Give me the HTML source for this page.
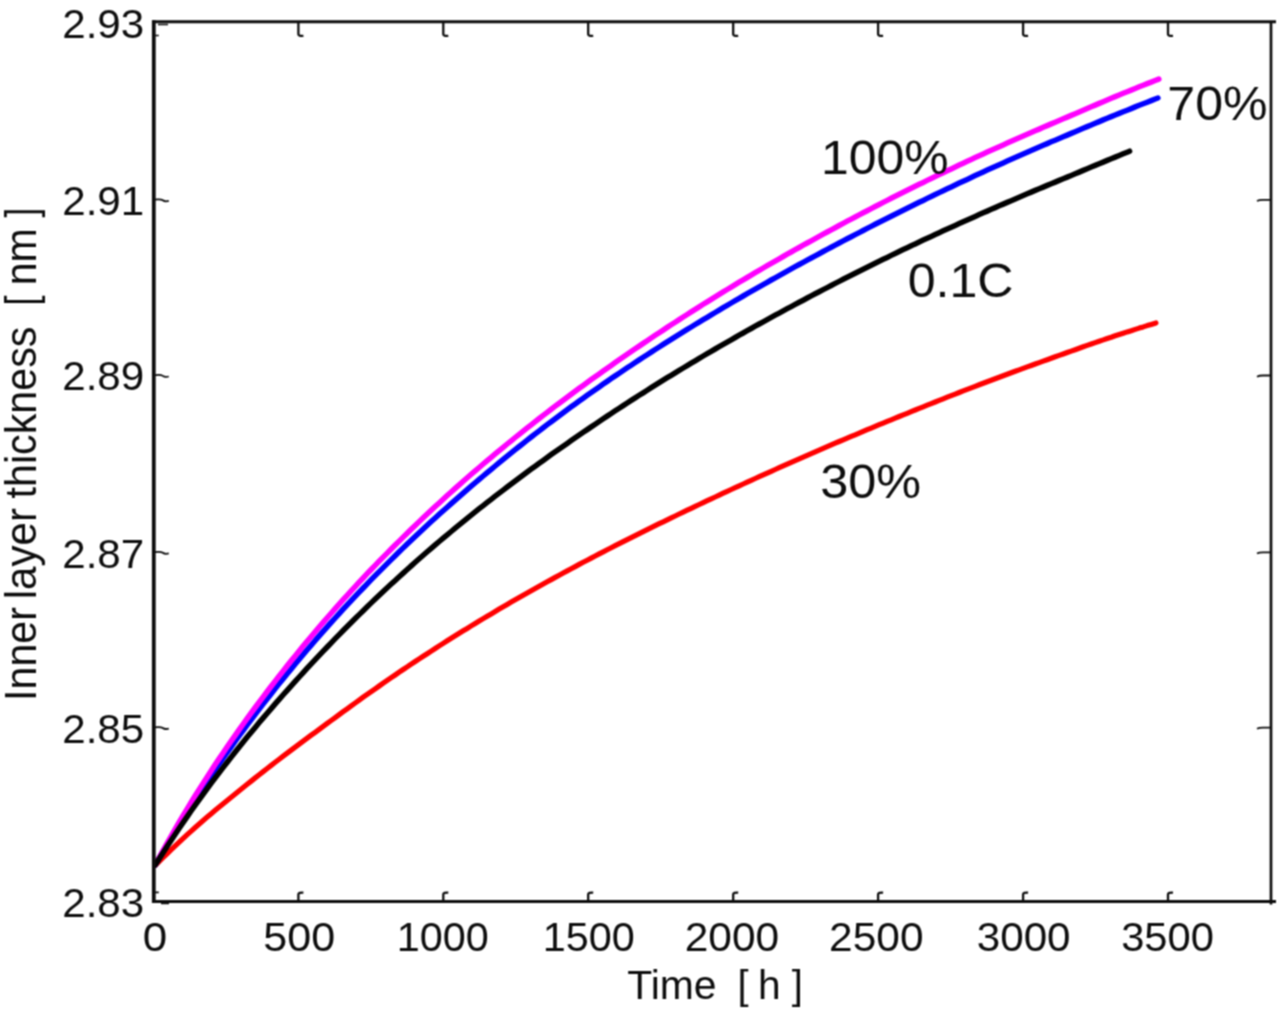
<!DOCTYPE html>
<html lang="en"><head><meta charset="utf-8"><title>Inner layer thickness vs time</title>
<style>html,body{margin:0;padding:0;background:#fff}body{width:1280px;height:1009px;overflow:hidden}svg{display:block}</style></head>
<body>
<svg width="1280" height="1009" viewBox="0 0 1280 1009">
<defs><filter id="soft" filterUnits="userSpaceOnUse" x="0" y="0" width="1280" height="1009" color-interpolation-filters="sRGB"><feConvolveMatrix order="3" kernelMatrix="1 2 1 2 4 2 1 2 1" divisor="16" edgeMode="duplicate" preserveAlpha="false"/></filter></defs>
<rect width="1280" height="1009" fill="#fff"/>
<g filter="url(#soft)">
<path d="M155.2,865.4 L159.2,861.4 L163.2,857.5 L167.2,853.6 L171.2,849.7 L175.2,845.9 L179.2,842.1 L183.2,838.4 L187.2,834.7 L191.2,831.1 L195.2,827.5 L199.2,824.0 L203.2,820.5 L207.2,817.1 L211.2,813.7 L215.2,810.3 L219.2,807.0 L223.2,803.7 L227.2,800.4 L231.2,797.2 L235.2,793.9 L239.2,790.7 L243.2,787.5 L247.2,784.3 L251.2,781.1 L255.2,777.9 L259.2,774.7 L263.2,771.6 L267.2,768.5 L271.2,765.4 L275.2,762.3 L279.2,759.2 L283.2,756.2 L287.2,753.2 L291.2,750.1 L295.2,747.1 L299.2,744.1 L303.2,741.2 L307.2,738.2 L311.2,735.2 L315.2,732.3 L319.2,729.3 L323.2,726.4 L327.2,723.4 L331.2,720.5 L335.2,717.6 L339.2,714.6 L343.2,711.7 L347.2,708.8 L351.2,705.9 L355.2,703.0 L359.2,700.1 L363.2,697.2 L367.2,694.4 L371.2,691.6 L375.2,688.8 L379.2,686.0 L383.2,683.2 L387.2,680.4 L391.2,677.7 L395.2,675.0 L399.2,672.2 L403.2,669.5 L407.2,666.9 L411.2,664.2 L415.2,661.5 L419.2,658.9 L423.2,656.3 L427.2,653.7 L431.2,651.1 L435.2,648.5 L439.2,645.9 L443.2,643.4 L447.2,640.8 L451.2,638.3 L455.2,635.8 L459.2,633.3 L463.2,630.8 L467.2,628.4 L471.2,625.9 L475.2,623.5 L479.2,621.1 L483.2,618.6 L487.2,616.2 L491.2,613.9 L495.2,611.5 L499.2,609.1 L503.2,606.8 L507.2,604.4 L511.2,602.1 L515.2,599.8 L519.2,597.5 L523.2,595.2 L527.2,593.0 L531.2,590.7 L535.2,588.5 L539.2,586.2 L543.2,584.0 L547.2,581.8 L551.2,579.6 L555.2,577.4 L559.2,575.2 L563.2,573.0 L567.2,570.9 L571.2,568.7 L575.2,566.6 L579.2,564.4 L583.2,562.3 L587.2,560.2 L591.2,558.1 L595.2,556.0 L599.2,553.9 L603.2,551.9 L607.2,549.8 L611.2,547.7 L615.2,545.7 L619.2,543.7 L623.2,541.6 L627.2,539.6 L631.2,537.6 L635.2,535.6 L639.2,533.6 L643.2,531.6 L647.2,529.6 L651.2,527.7 L655.2,525.7 L659.2,523.7 L663.2,521.8 L667.2,519.8 L671.2,517.9 L675.2,516.0 L679.2,514.0 L683.2,512.1 L687.2,510.2 L691.2,508.3 L695.2,506.4 L699.2,504.5 L703.2,502.6 L707.2,500.7 L711.2,498.8 L715.2,497.0 L719.2,495.1 L723.2,493.2 L727.2,491.4 L731.2,489.5 L735.2,487.7 L739.2,485.8 L743.2,484.0 L747.2,482.1 L751.2,480.3 L755.2,478.5 L759.2,476.7 L763.2,474.9 L767.2,473.1 L771.2,471.3 L775.2,469.5 L779.2,467.7 L783.2,465.9 L787.2,464.1 L791.2,462.3 L795.2,460.6 L799.2,458.8 L803.2,457.1 L807.2,455.3 L811.2,453.6 L815.2,451.8 L819.2,450.1 L823.2,448.4 L827.2,446.7 L831.2,444.9 L835.2,443.2 L839.2,441.5 L843.2,439.8 L847.2,438.1 L851.2,436.4 L855.2,434.8 L859.2,433.1 L863.2,431.4 L867.2,429.7 L871.2,428.1 L875.2,426.4 L879.2,424.7 L883.2,423.1 L887.2,421.4 L891.2,419.8 L895.2,418.2 L899.2,416.5 L903.2,414.9 L907.2,413.3 L911.2,411.6 L915.2,410.0 L919.2,408.4 L923.2,406.8 L927.2,405.2 L931.2,403.6 L935.2,402.0 L939.2,400.4 L943.2,398.8 L947.2,397.2 L951.2,395.6 L955.2,394.1 L959.2,392.5 L963.2,390.9 L967.2,389.4 L971.2,387.9 L975.2,386.3 L979.2,384.8 L983.2,383.3 L987.2,381.8 L991.2,380.3 L995.2,378.8 L999.2,377.3 L1003.2,375.8 L1007.2,374.3 L1011.2,372.8 L1015.2,371.3 L1019.2,369.9 L1023.2,368.4 L1027.2,366.9 L1031.2,365.5 L1035.2,364.0 L1039.2,362.6 L1043.2,361.1 L1047.2,359.7 L1051.2,358.3 L1055.2,356.8 L1059.2,355.4 L1063.2,354.0 L1067.2,352.5 L1071.2,351.1 L1075.2,349.7 L1079.2,348.2 L1083.2,346.8 L1087.2,345.4 L1091.2,344.0 L1095.2,342.6 L1099.2,341.2 L1103.2,339.9 L1107.2,338.5 L1111.2,337.2 L1115.2,335.8 L1119.2,334.5 L1123.2,333.2 L1127.2,331.9 L1131.2,330.7 L1135.2,329.4 L1139.2,328.1 L1143.2,326.9 L1147.2,325.6 L1151.2,324.4 L1155.2,323.2 L1155.9,323.0" fill="none" stroke="#ff0000" stroke-width="5.2" stroke-linejoin="round" stroke-linecap="round"/>
<path d="M155.2,865.0 L159.2,858.0 L163.2,851.1 L167.2,844.4 L171.2,837.7 L175.2,831.1 L179.2,824.6 L183.2,818.1 L187.2,811.8 L191.2,805.5 L195.2,799.3 L199.2,793.2 L203.2,787.2 L207.2,781.2 L211.2,775.3 L215.2,769.5 L219.2,763.7 L223.2,758.0 L227.2,752.4 L231.2,746.8 L235.2,741.2 L239.2,735.7 L243.2,730.3 L247.2,724.9 L251.2,719.6 L255.2,714.3 L259.2,709.1 L263.2,703.9 L267.2,698.7 L271.2,693.7 L275.2,688.6 L279.2,683.6 L283.2,678.7 L287.2,673.8 L291.2,668.9 L295.2,664.1 L299.2,659.3 L303.2,654.5 L307.2,649.8 L311.2,645.2 L315.2,640.5 L319.2,635.9 L323.2,631.4 L327.2,626.9 L331.2,622.4 L335.2,618.0 L339.2,613.6 L343.2,609.2 L347.2,604.9 L351.2,600.6 L355.2,596.4 L359.2,592.2 L363.2,588.0 L367.2,583.8 L371.2,579.7 L375.2,575.6 L379.2,571.6 L383.2,567.6 L387.2,563.6 L391.2,559.6 L395.2,555.7 L399.2,551.8 L403.2,547.9 L407.2,544.1 L411.2,540.3 L415.2,536.5 L419.2,532.7 L423.2,529.0 L427.2,525.3 L431.2,521.6 L435.2,518.0 L439.2,514.3 L443.2,510.7 L447.2,507.2 L451.2,503.6 L455.2,500.1 L459.2,496.6 L463.2,493.1 L467.2,489.6 L471.2,486.2 L475.2,482.7 L479.2,479.3 L483.2,476.0 L487.2,472.6 L491.2,469.3 L495.2,466.0 L499.2,462.7 L503.2,459.4 L507.2,456.1 L511.2,452.9 L515.2,449.7 L519.2,446.5 L523.2,443.3 L527.2,440.2 L531.2,437.0 L535.2,433.9 L539.2,430.8 L543.2,427.8 L547.2,424.7 L551.2,421.7 L555.2,418.7 L559.2,415.7 L563.2,412.7 L567.2,409.8 L571.2,406.8 L575.2,403.9 L579.2,401.0 L583.2,398.2 L587.2,395.3 L591.2,392.5 L595.2,389.7 L599.2,386.9 L603.2,384.1 L607.2,381.4 L611.2,378.6 L615.2,375.9 L619.2,373.2 L623.2,370.5 L627.2,367.8 L631.2,365.2 L635.2,362.5 L639.2,359.9 L643.2,357.3 L647.2,354.7 L651.2,352.1 L655.2,349.5 L659.2,347.0 L663.2,344.4 L667.2,341.9 L671.2,339.4 L675.2,336.9 L679.2,334.4 L683.2,331.9 L687.2,329.4 L691.2,327.0 L695.2,324.5 L699.2,322.1 L703.2,319.7 L707.2,317.3 L711.2,314.9 L715.2,312.5 L719.2,310.1 L723.2,307.7 L727.2,305.4 L731.2,303.0 L735.2,300.7 L739.2,298.3 L743.2,296.0 L747.2,293.7 L751.2,291.4 L755.2,289.1 L759.2,286.8 L763.2,284.6 L767.2,282.3 L771.2,280.0 L775.2,277.8 L779.2,275.6 L783.2,273.3 L787.2,271.1 L791.2,268.9 L795.2,266.7 L799.2,264.5 L803.2,262.3 L807.2,260.1 L811.2,258.0 L815.2,255.8 L819.2,253.7 L823.2,251.5 L827.2,249.4 L831.2,247.3 L835.2,245.1 L839.2,243.0 L843.2,240.9 L847.2,238.8 L851.2,236.7 L855.2,234.6 L859.2,232.6 L863.2,230.5 L867.2,228.4 L871.2,226.4 L875.2,224.3 L879.2,222.3 L883.2,220.3 L887.2,218.3 L891.2,216.2 L895.2,214.2 L899.2,212.2 L903.2,210.2 L907.2,208.2 L911.2,206.3 L915.2,204.3 L919.2,202.3 L923.2,200.4 L927.2,198.4 L931.2,196.5 L935.2,194.6 L939.2,192.6 L943.2,190.7 L947.2,188.8 L951.2,186.9 L955.2,185.0 L959.2,183.1 L963.2,181.2 L967.2,179.4 L971.2,177.5 L975.2,175.6 L979.2,173.8 L983.2,171.9 L987.2,170.1 L991.2,168.3 L995.2,166.5 L999.2,164.7 L1003.2,162.9 L1007.2,161.1 L1011.2,159.3 L1015.2,157.5 L1019.2,155.7 L1023.2,154.0 L1027.2,152.2 L1031.2,150.5 L1035.2,148.7 L1039.2,147.0 L1043.2,145.3 L1047.2,143.6 L1051.2,141.8 L1055.2,140.2 L1059.2,138.5 L1063.2,136.8 L1067.2,135.1 L1071.2,133.4 L1075.2,131.7 L1079.2,130.0 L1083.2,128.3 L1087.2,126.6 L1091.2,125.0 L1095.2,123.3 L1099.2,121.6 L1103.2,119.9 L1107.2,118.3 L1111.2,116.6 L1115.2,115.0 L1119.2,113.4 L1123.2,111.8 L1127.2,110.2 L1131.2,108.6 L1135.2,106.9 L1139.2,105.3 L1143.2,103.8 L1147.2,102.2 L1151.2,100.6 L1155.2,99.0 L1157.9,98.0" fill="none" stroke="#0000ff" stroke-width="5.5" stroke-linejoin="round" stroke-linecap="round"/>
<path d="M155.2,864.9 L159.2,857.5 L163.2,850.3 L167.2,843.1 L171.2,836.1 L175.2,829.1 L179.2,822.2 L183.2,815.5 L187.2,808.8 L191.2,802.3 L195.2,795.8 L199.2,789.4 L203.2,783.1 L207.2,776.9 L211.2,770.7 L215.2,764.6 L219.2,758.6 L223.2,752.7 L227.2,746.8 L231.2,741.0 L235.2,735.3 L239.2,729.6 L243.2,724.0 L247.2,718.4 L251.2,712.9 L255.2,707.5 L259.2,702.1 L263.2,696.8 L267.2,691.5 L271.2,686.3 L275.2,681.1 L279.2,675.9 L283.2,670.9 L287.2,665.8 L291.2,660.8 L295.2,655.9 L299.2,651.0 L303.2,646.1 L307.2,641.2 L311.2,636.5 L315.2,631.7 L319.2,627.0 L323.2,622.4 L327.2,617.8 L331.2,613.2 L335.2,608.6 L339.2,604.2 L343.2,599.7 L347.2,595.3 L351.2,590.9 L355.2,586.6 L359.2,582.2 L363.2,578.0 L367.2,573.7 L371.2,569.5 L375.2,565.4 L379.2,561.2 L383.2,557.1 L387.2,553.1 L391.2,549.0 L395.2,545.0 L399.2,541.1 L403.2,537.1 L407.2,533.2 L411.2,529.3 L415.2,525.5 L419.2,521.6 L423.2,517.8 L427.2,514.1 L431.2,510.3 L435.2,506.6 L439.2,502.9 L443.2,499.3 L447.2,495.6 L451.2,492.0 L455.2,488.4 L459.2,484.9 L463.2,481.3 L467.2,477.8 L471.2,474.3 L475.2,470.9 L479.2,467.5 L483.2,464.0 L487.2,460.6 L491.2,457.3 L495.2,453.9 L499.2,450.6 L503.2,447.3 L507.2,444.0 L511.2,440.8 L515.2,437.5 L519.2,434.3 L523.2,431.1 L527.2,427.9 L531.2,424.8 L535.2,421.6 L539.2,418.5 L543.2,415.4 L547.2,412.3 L551.2,409.3 L555.2,406.2 L559.2,403.2 L563.2,400.2 L567.2,397.2 L571.2,394.2 L575.2,391.3 L579.2,388.3 L583.2,385.4 L587.2,382.5 L591.2,379.6 L595.2,376.7 L599.2,373.9 L603.2,371.0 L607.2,368.2 L611.2,365.4 L615.2,362.6 L619.2,359.8 L623.2,357.0 L627.2,354.3 L631.2,351.5 L635.2,348.8 L639.2,346.1 L643.2,343.4 L647.2,340.7 L651.2,338.0 L655.2,335.3 L659.2,332.7 L663.2,330.1 L667.2,327.4 L671.2,324.8 L675.2,322.2 L679.2,319.6 L683.2,317.0 L687.2,314.5 L691.2,311.9 L695.2,309.4 L699.2,306.9 L703.2,304.3 L707.2,301.8 L711.2,299.3 L715.2,296.9 L719.2,294.4 L723.2,291.9 L727.2,289.5 L731.2,287.1 L735.2,284.6 L739.2,282.2 L743.2,279.8 L747.2,277.5 L751.2,275.1 L755.2,272.7 L759.2,270.4 L763.2,268.0 L767.2,265.7 L771.2,263.4 L775.2,261.1 L779.2,258.8 L783.2,256.5 L787.2,254.2 L791.2,252.0 L795.2,249.7 L799.2,247.5 L803.2,245.2 L807.2,243.0 L811.2,240.8 L815.2,238.6 L819.2,236.4 L823.2,234.2 L827.2,232.0 L831.2,229.8 L835.2,227.7 L839.2,225.5 L843.2,223.4 L847.2,221.2 L851.2,219.1 L855.2,217.0 L859.2,214.9 L863.2,212.8 L867.2,210.7 L871.2,208.6 L875.2,206.5 L879.2,204.5 L883.2,202.4 L887.2,200.4 L891.2,198.3 L895.2,196.3 L899.2,194.3 L903.2,192.3 L907.2,190.3 L911.2,188.3 L915.2,186.3 L919.2,184.3 L923.2,182.4 L927.2,180.4 L931.2,178.5 L935.2,176.5 L939.2,174.6 L943.2,172.7 L947.2,170.8 L951.2,168.9 L955.2,167.0 L959.2,165.1 L963.2,163.2 L967.2,161.3 L971.2,159.5 L975.2,157.6 L979.2,155.8 L983.2,154.0 L987.2,152.1 L991.2,150.3 L995.2,148.5 L999.2,146.7 L1003.2,144.9 L1007.2,143.1 L1011.2,141.3 L1015.2,139.5 L1019.2,137.8 L1023.2,136.0 L1027.2,134.3 L1031.2,132.5 L1035.2,130.8 L1039.2,129.1 L1043.2,127.3 L1047.2,125.6 L1051.2,123.9 L1055.2,122.2 L1059.2,120.5 L1063.2,118.8 L1067.2,117.1 L1071.2,115.4 L1075.2,113.7 L1079.2,112.0 L1083.2,110.3 L1087.2,108.5 L1091.2,106.8 L1095.2,105.1 L1099.2,103.4 L1103.2,101.7 L1107.2,100.0 L1111.2,98.3 L1115.2,96.6 L1119.2,95.0 L1123.2,93.3 L1127.2,91.7 L1131.2,90.1 L1135.2,88.5 L1139.2,86.8 L1143.2,85.2 L1147.2,83.6 L1151.2,82.1 L1155.2,80.5 L1158.8,79.1" fill="none" stroke="#ff00ff" stroke-width="5.5" stroke-linejoin="round" stroke-linecap="round"/>
<path d="M155.2,865.0 L159.2,858.7 L163.2,852.5 L167.2,846.3 L171.2,840.2 L175.2,834.2 L179.2,828.2 L183.2,822.4 L187.2,816.6 L191.2,810.8 L195.2,805.2 L199.2,799.6 L203.2,794.1 L207.2,788.6 L211.2,783.2 L215.2,777.9 L219.2,772.6 L223.2,767.4 L227.2,762.2 L231.2,757.1 L235.2,752.0 L239.2,747.0 L243.2,742.0 L247.2,737.1 L251.2,732.2 L255.2,727.4 L259.2,722.6 L263.2,717.9 L267.2,713.2 L271.2,708.6 L275.2,703.9 L279.2,699.4 L283.2,694.8 L287.2,690.3 L291.2,685.9 L295.2,681.4 L299.2,677.0 L303.2,672.6 L307.2,668.2 L311.2,663.9 L315.2,659.6 L319.2,655.4 L323.2,651.2 L327.2,647.0 L331.2,642.8 L335.2,638.7 L339.2,634.6 L343.2,630.5 L347.2,626.5 L351.2,622.5 L355.2,618.5 L359.2,614.6 L363.2,610.7 L367.2,606.8 L371.2,602.9 L375.2,599.1 L379.2,595.3 L383.2,591.5 L387.2,587.8 L391.2,584.1 L395.2,580.4 L399.2,576.7 L403.2,573.1 L407.2,569.5 L411.2,565.9 L415.2,562.3 L419.2,558.8 L423.2,555.3 L427.2,551.8 L431.2,548.4 L435.2,544.9 L439.2,541.5 L443.2,538.1 L447.2,534.8 L451.2,531.5 L455.2,528.1 L459.2,524.9 L463.2,521.6 L467.2,518.3 L471.2,515.1 L475.2,511.9 L479.2,508.7 L483.2,505.6 L487.2,502.4 L491.2,499.3 L495.2,496.2 L499.2,493.1 L503.2,490.1 L507.2,487.0 L511.2,484.0 L515.2,481.0 L519.2,478.0 L523.2,475.0 L527.2,472.0 L531.2,469.1 L535.2,466.2 L539.2,463.3 L543.2,460.4 L547.2,457.5 L551.2,454.6 L555.2,451.8 L559.2,449.0 L563.2,446.2 L567.2,443.4 L571.2,440.6 L575.2,437.8 L579.2,435.0 L583.2,432.3 L587.2,429.6 L591.2,426.9 L595.2,424.2 L599.2,421.5 L603.2,418.8 L607.2,416.1 L611.2,413.5 L615.2,410.8 L619.2,408.2 L623.2,405.6 L627.2,403.0 L631.2,400.4 L635.2,397.9 L639.2,395.3 L643.2,392.8 L647.2,390.2 L651.2,387.7 L655.2,385.2 L659.2,382.7 L663.2,380.2 L667.2,377.7 L671.2,375.3 L675.2,372.8 L679.2,370.4 L683.2,368.0 L687.2,365.6 L691.2,363.2 L695.2,360.8 L699.2,358.4 L703.2,356.0 L707.2,353.7 L711.2,351.3 L715.2,349.0 L719.2,346.7 L723.2,344.4 L727.2,342.1 L731.2,339.8 L735.2,337.5 L739.2,335.2 L743.2,333.0 L747.2,330.7 L751.2,328.5 L755.2,326.2 L759.2,324.0 L763.2,321.8 L767.2,319.6 L771.2,317.4 L775.2,315.2 L779.2,313.1 L783.2,310.9 L787.2,308.7 L791.2,306.6 L795.2,304.4 L799.2,302.3 L803.2,300.2 L807.2,298.0 L811.2,295.9 L815.2,293.8 L819.2,291.7 L823.2,289.6 L827.2,287.6 L831.2,285.5 L835.2,283.4 L839.2,281.4 L843.2,279.3 L847.2,277.3 L851.2,275.3 L855.2,273.2 L859.2,271.2 L863.2,269.2 L867.2,267.2 L871.2,265.2 L875.2,263.2 L879.2,261.3 L883.2,259.3 L887.2,257.4 L891.2,255.4 L895.2,253.5 L899.2,251.5 L903.2,249.6 L907.2,247.7 L911.2,245.8 L915.2,243.9 L919.2,242.0 L923.2,240.1 L927.2,238.2 L931.2,236.4 L935.2,234.5 L939.2,232.7 L943.2,230.8 L947.2,229.0 L951.2,227.2 L955.2,225.4 L959.2,223.6 L963.2,221.8 L967.2,220.0 L971.2,218.2 L975.2,216.4 L979.2,214.6 L983.2,212.8 L987.2,211.1 L991.2,209.3 L995.2,207.6 L999.2,205.8 L1003.2,204.1 L1007.2,202.4 L1011.2,200.7 L1015.2,198.9 L1019.2,197.2 L1023.2,195.5 L1027.2,193.8 L1031.2,192.1 L1035.2,190.4 L1039.2,188.8 L1043.2,187.1 L1047.2,185.4 L1051.2,183.8 L1055.2,182.1 L1059.2,180.4 L1063.2,178.8 L1067.2,177.1 L1071.2,175.5 L1075.2,173.8 L1079.2,172.1 L1083.2,170.4 L1087.2,168.7 L1091.2,167.0 L1095.2,165.4 L1099.2,163.7 L1103.2,162.1 L1107.2,160.4 L1111.2,158.8 L1115.2,157.1 L1119.2,155.5 L1123.2,153.8 L1127.2,152.2 L1129.6,151.2" fill="none" stroke="#000000" stroke-width="5.5" stroke-linejoin="round" stroke-linecap="round"/>
<g font-family="'Liberation Sans', sans-serif" fill="#0d0d0d">
<text transform="translate(62.22,38.10) scale(1.0400,1)" font-size="40.5">2.93</text>
<text transform="translate(62.22,215.00) scale(1.0400,1)" font-size="40.5">2.91</text>
<text transform="translate(62.22,389.80) scale(1.0400,1)" font-size="40.5">2.89</text>
<text transform="translate(62.22,567.50) scale(1.0400,1)" font-size="40.5">2.87</text>
<text transform="translate(62.22,742.60) scale(1.0400,1)" font-size="40.5">2.85</text>
<text transform="translate(62.22,917.30) scale(1.0400,1)" font-size="40.5">2.83</text>
<text transform="translate(142.63,950.50) scale(1.0842,1)" font-size="40.5">0</text>
<text transform="translate(263.27,950.50) scale(1.0641,1)" font-size="40.5">500</text>
<text transform="translate(396.63,950.50) scale(1.0224,1)" font-size="40.5">1000</text>
<text transform="translate(542.63,950.50) scale(1.0224,1)" font-size="40.5">1500</text>
<text transform="translate(684.70,950.50) scale(1.0488,1)" font-size="40.5">2000</text>
<text transform="translate(829.10,950.50) scale(1.0488,1)" font-size="40.5">2500</text>
<text transform="translate(976.72,950.50) scale(1.0419,1)" font-size="40.5">3000</text>
<text transform="translate(1121.14,950.50) scale(1.0291,1)" font-size="40.5">3500</text>
<text transform="translate(821.11,174.40) scale(1.0227,1)" font-size="48.8">100%</text>
<text transform="translate(1167.32,119.80) scale(1.0269,1)" font-size="48.8">70%</text>
<text transform="translate(907.65,297.00) scale(1.0273,1)" font-size="48.8">0.1C</text>
<text transform="translate(820.23,497.90) scale(1.0330,1)" font-size="48.8">30%</text>
<text transform="translate(627.18,999.30) scale(1.0235,1)" font-size="40">Time</text>
<text transform="translate(737.60,999.30) scale(1.0000,1)" font-size="40">[</text>
<text transform="translate(757.95,999.30) scale(1.0176,1)" font-size="40">h</text>
<text transform="translate(791.70,999.30) scale(1.0000,1)" font-size="40">]</text>
<text transform="translate(36.00,700.92) rotate(-90) scale(1.0291,1.09)" font-size="40">Inner</text>
<text transform="translate(36.00,599.36) rotate(-90) scale(1.0530,1.09)" font-size="40">layer</text>
<text transform="translate(36.00,498.53) rotate(-90) scale(1.0317,1.09)" font-size="40">thickness</text>
<text transform="translate(36.00,305.77) rotate(-90) scale(0.9250,1.09)" font-size="40">[</text>
<text transform="translate(36.00,285.28) rotate(-90) scale(1.0280,1.09)" font-size="40">nm</text>
<text transform="translate(36.00,217.40) rotate(-90) scale(0.8750,1.09)" font-size="40">]</text>
</g>
<g stroke="#0d0d0d" fill="none">
<line x1="153.8" y1="20.3" x2="153.8" y2="902.9" stroke-width="3.8"/>
<line x1="152.10000000000002" y1="21.8" x2="1276" y2="21.8" stroke-width="3"/>
<line x1="152.10000000000002" y1="901.5" x2="1276" y2="901.5" stroke-width="2.8"/>
<line x1="1271" y1="21.8" x2="1271" y2="904.5" stroke="#0d0d0d" stroke-width="2.7"/>
<path d="M298.4,21.8 V34.3 q0,2 5,1.6" stroke-width="2.3"/>
<path d="M298.4,901.5 V894.3 q0,-2 5,-1.6" stroke-width="2.3"/>
<path d="M443.3,21.8 V34.3 q0,2 5,1.6" stroke-width="2.3"/>
<path d="M443.3,901.5 V894.3 q0,-2 5,-1.6" stroke-width="2.3"/>
<path d="M588.2,21.8 V34.3 q0,2 5,1.6" stroke-width="2.3"/>
<path d="M588.2,901.5 V894.3 q0,-2 5,-1.6" stroke-width="2.3"/>
<path d="M733.2,21.8 V34.3 q0,2 5,1.6" stroke-width="2.3"/>
<path d="M733.2,901.5 V894.3 q0,-2 5,-1.6" stroke-width="2.3"/>
<path d="M878.1,21.8 V34.3 q0,2 5,1.6" stroke-width="2.3"/>
<path d="M878.1,901.5 V894.3 q0,-2 5,-1.6" stroke-width="2.3"/>
<path d="M1023.1,21.8 V34.3 q0,2 5,1.6" stroke-width="2.3"/>
<path d="M1023.1,901.5 V894.3 q0,-2 5,-1.6" stroke-width="2.3"/>
<path d="M1168.0,21.8 V34.3 q0,2 5,1.6" stroke-width="2.3"/>
<path d="M1168.0,901.5 V894.3 q0,-2 5,-1.6" stroke-width="2.3"/>
<path d="M153.8,35.5 h5 M153.8,892.4 h5 M158,24.5 h10 M161,903.5 h8" stroke-width="1.6"/>
<path d="M153.8,199.7 q7,-1 9,0.6 t6,0.6" stroke-width="1.8"/>
<path d="M1271,199.9 h-8 q-4,0 -6,1.2" stroke-width="1.8"/>
<path d="M153.8,375.3 q7,-1 9,0.6 t6,0.6" stroke-width="1.8"/>
<path d="M1271,375.5 h-8 q-4,0 -6,1.2" stroke-width="1.8"/>
<path d="M153.8,552.2 q7,-1 9,0.6 t6,0.6" stroke-width="1.8"/>
<path d="M1271,552.4 h-8 q-4,0 -6,1.2" stroke-width="1.8"/>
<path d="M153.8,727.4 q7,-1 9,0.6 t6,0.6" stroke-width="1.8"/>
<path d="M1271,727.6 h-8 q-4,0 -6,1.2" stroke-width="1.8"/>
</g>
</g>
</svg>
</body></html>
